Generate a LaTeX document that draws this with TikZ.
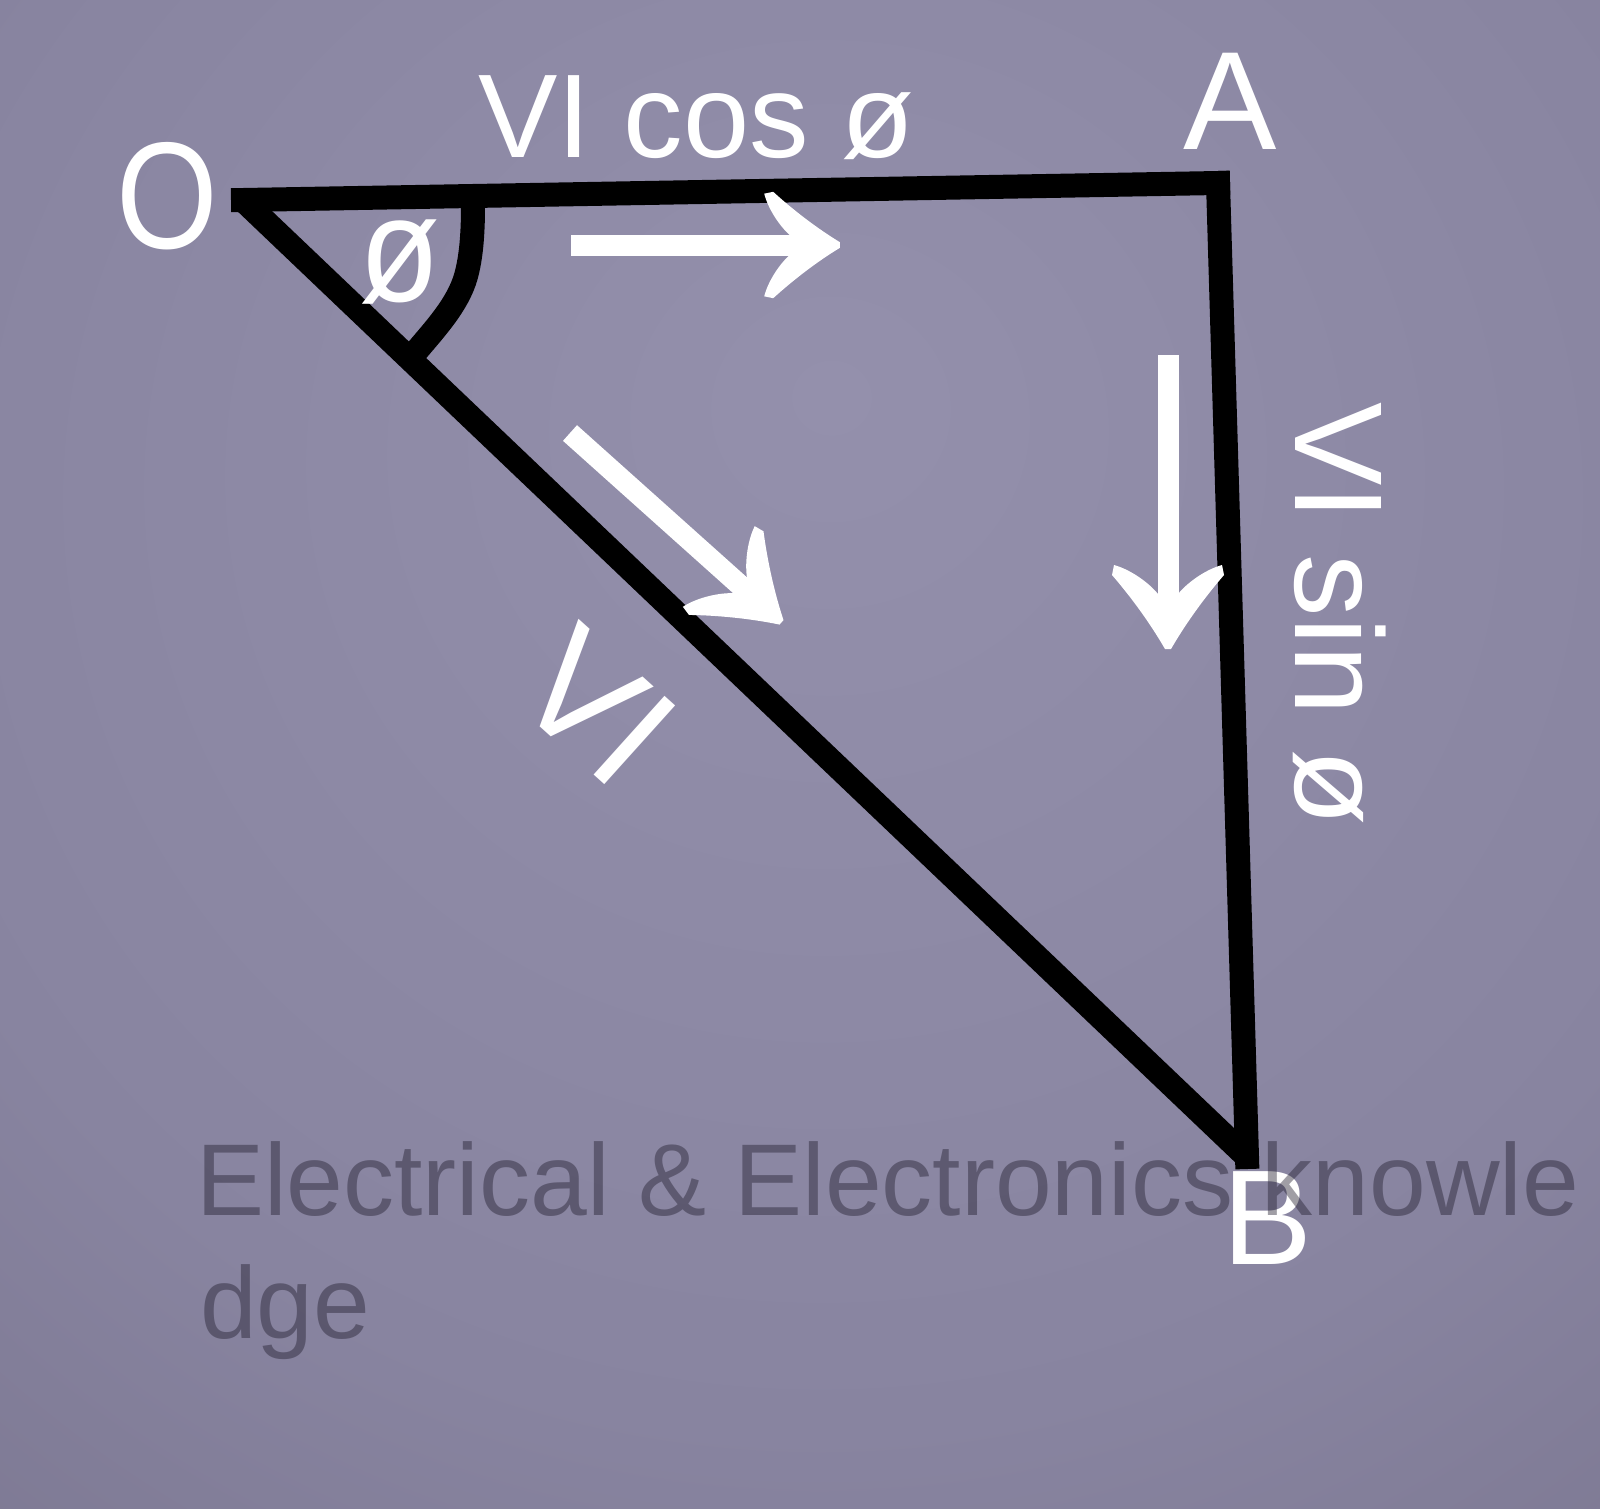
\documentclass[tikz,border=0pt]{standalone}
\usepackage{fontspec}
\setmainfont{Liberation Sans}
\usetikzlibrary{calc}
\definecolor{bgin}{RGB}{148,144,172}
\definecolor{bgmid}{RGB}{136,132,160}
\definecolor{bgout}{RGB}{104,99,122}
\definecolor{wmc}{RGB}{30,26,42}
\pgfdeclareradialshading{bgshade}{\pgfpoint{1bp}{12bp}}{color(0bp)=(bgin); color(30bp)=(bgmid); color(66bp)=(bgout); color(80bp)=(bgout)}
\tikzset{
  tri/.style={line width=24pt, draw=black},
  anglemark/.style={line width=24pt, draw=black, line cap=round, line join=round},
  lbl/.style={text=white, inner sep=0pt},
  whitearrow/.style={line width=21pt, draw=white},
  wm/.style={text=wmc, text opacity=0.42, inner sep=0pt, font=\fontsize{102}{102}\selectfont},
  pics/whead/.style={code={
    \fill[white] (2,-3) .. controls (-24,-18) and (-50,-37) .. (-72,-56)
      -- (-82,-54) .. controls (-77,-36) and (-63,-18) .. (-53,-10)
      -- (-53,10) .. controls (-63,18) and (-77,36) .. (-82,54)
      -- (-72,56) .. controls (-50,37) and (-24,18) .. (2,3) -- cycle;
  }},
}
\begin{document}
\begin{tikzpicture}[x=1pt,y=-1pt]
\useasboundingbox (0,0) rectangle (1600,1508);
\shade[shading=bgshade] (0,0) rectangle (1600,1508);

% triangle
\coordinate (O) at (243,200);
\coordinate (A) at (1218,183);
\coordinate (B) at (1247,1157);
\draw[tri, line cap=rect] (O) -- (A);
\draw[tri, line cap=rect] (A) -- (B);
\draw[tri] (O) -- (B);

% angle mark
\coordinate (m1) at (473,206);
\coordinate (m2) at (466,276);
\coordinate (m3) at (414,354);
\draw[anglemark] (m1) .. controls (473,235) and (471,258) .. (m2)
  .. controls (458,305) and (434,330) .. (m3);

% white arrows
\coordinate (hs) at (571,245);
\coordinate (ht) at (838,245);
\draw[whitearrow] (hs) -- ($(ht)!35pt!(hs)$);
\pic[xscale=0.9, yscale=0.95] at (ht) {whead};

\coordinate (vs) at (1168,355);
\coordinate (vt) at (1168,647);
\draw[whitearrow] (vs) -- ($(vt)!40pt!(vs)$);
\pic[rotate=-90] at (vt) {whead};

\coordinate (ds) at (570,433);
\coordinate (dt) at (780,621);
\draw[whitearrow] (ds) -- ($(dt)!40pt!(ds)$);
\pic[rotate=-41.7] at (dt) {whead};

% labels
\node[lbl, font=\fontsize{119}{119}\selectfont, anchor=base west] (cos) at (478,157) {VI cos ø};
\node[lbl, font=\fontsize{152}{152}\selectfont, xscale=0.86] (labO) at (167,196) {O};
\node[lbl, font=\fontsize{140}{140}\selectfont] (labA) at (1230,101) {A};
\node[lbl, font=\fontsize{150}{150}\selectfont, xscale=0.88] (phi) at (400,262) {ø};
\node[lbl, font=\fontsize{125}{125}\selectfont, rotate=-90, anchor=base west] (sin) at (1295,402) {VI sin ø};
\node[lbl, font=\fontsize{154}{154}\selectfont, rotate=-42, anchor=base west] (vi) at (507,697) {VI};
\node[lbl, font=\fontsize{135}{135}\selectfont] (labB) at (1268,1218) {B};

% watermark
\node[wm, anchor=base west] (wm1) at (196,1215) {Electrical \& Electronics knowle};
\node[wm, anchor=base west] (wm2) at (200,1338) {dge};
\end{tikzpicture}
\end{document}
